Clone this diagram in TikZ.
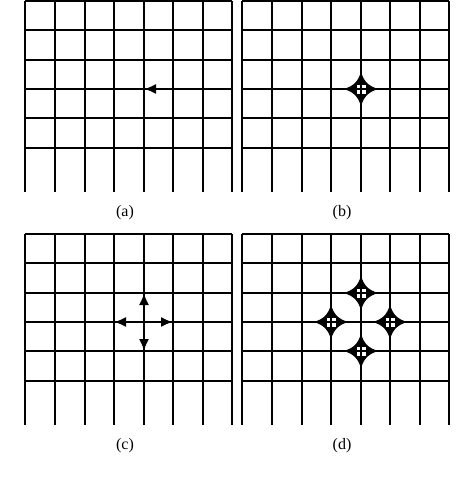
\documentclass[tikz,border=0pt]{standalone}
\usepackage{fontspec}
\setmainfont{Liberation Serif}
\usepackage{tikz}
\usetikzlibrary{arrows.meta,calc}
\tikzstyle{gridline}=[line width=2pt, draw=black]
\tikzstyle{move}=[line width=2pt, -{Latex[length=12pt,width=10pt]}]
\tikzstyle{caption}=[font=\fontsize{16}{18}\selectfont, inner sep=0pt]
% four pointed burst at a grid crossing
\newcommand{\burst}[1]{%
  \begin{scope}[shift={(#1)}]
    \foreach \a in {0,90,180,270}
      \fill[black, rotate=\a] (0,0) -- (17,0) .. controls (12,1.6) and (8.5,3.6) .. (6,6)
        .. controls (3.6,8.5) and (1.6,12) .. (0,17) -- cycle;
    \fill[white] (-4.5,-4.5) rectangle (4.5,4.5);
    \draw[line width=2pt] (-4.5,0) -- (4.5,0) (0,-4.5) -- (0,4.5);
  \end{scope}
}

\begin{document}
\begin{tikzpicture}[x=1pt,y=-1pt,>=latex]
  \useasboundingbox (0,0) rectangle (474,480);
  % four panels of grid
  \foreach \ox/\oy/\tag in {25/1/a, 242/1/b, 25/234/c, 242/234/d} {
    \begin{scope}[shift={(\ox,\oy)}]
      \foreach \x in {0,30,60,89,119,148,178,207}
        \draw[gridline] (\x,0) -- (\x,191);
      \foreach \y in {0,29,59,88,117,147}
        \draw[gridline] (0,\y) -- (207,\y);
      \coordinate (\tag-c) at (119,88);
      \coordinate (\tag-l) at (89,88);
      \coordinate (\tag-r) at (148,88);
      \coordinate (\tag-u) at (119,59);
      \coordinate (\tag-d) at (119,117);
      \node (lbl\tag) [caption] at (100,212) {(\tag)};
    \end{scope}
  }
  % (a) single move
  \coordinate (a-t) at ($(a-c)+(15,0)$);
  \draw[move] (a-t) -- (a-c);
  % (b) burst at the centre
  \burst{b-c}
  % (c) moves to the four neighbours
  \draw[move] (c-c) -- (c-u);
  \draw[move] (c-c) -- (c-d);
  \draw[move] (c-c) -- (c-l);
  \draw[move] (c-c) -- (c-r);
  % (d) bursts at the four neighbours
  \burst{d-u}
  \burst{d-d}
  \burst{d-l}
  \burst{d-r}
\end{tikzpicture}
\end{document}
